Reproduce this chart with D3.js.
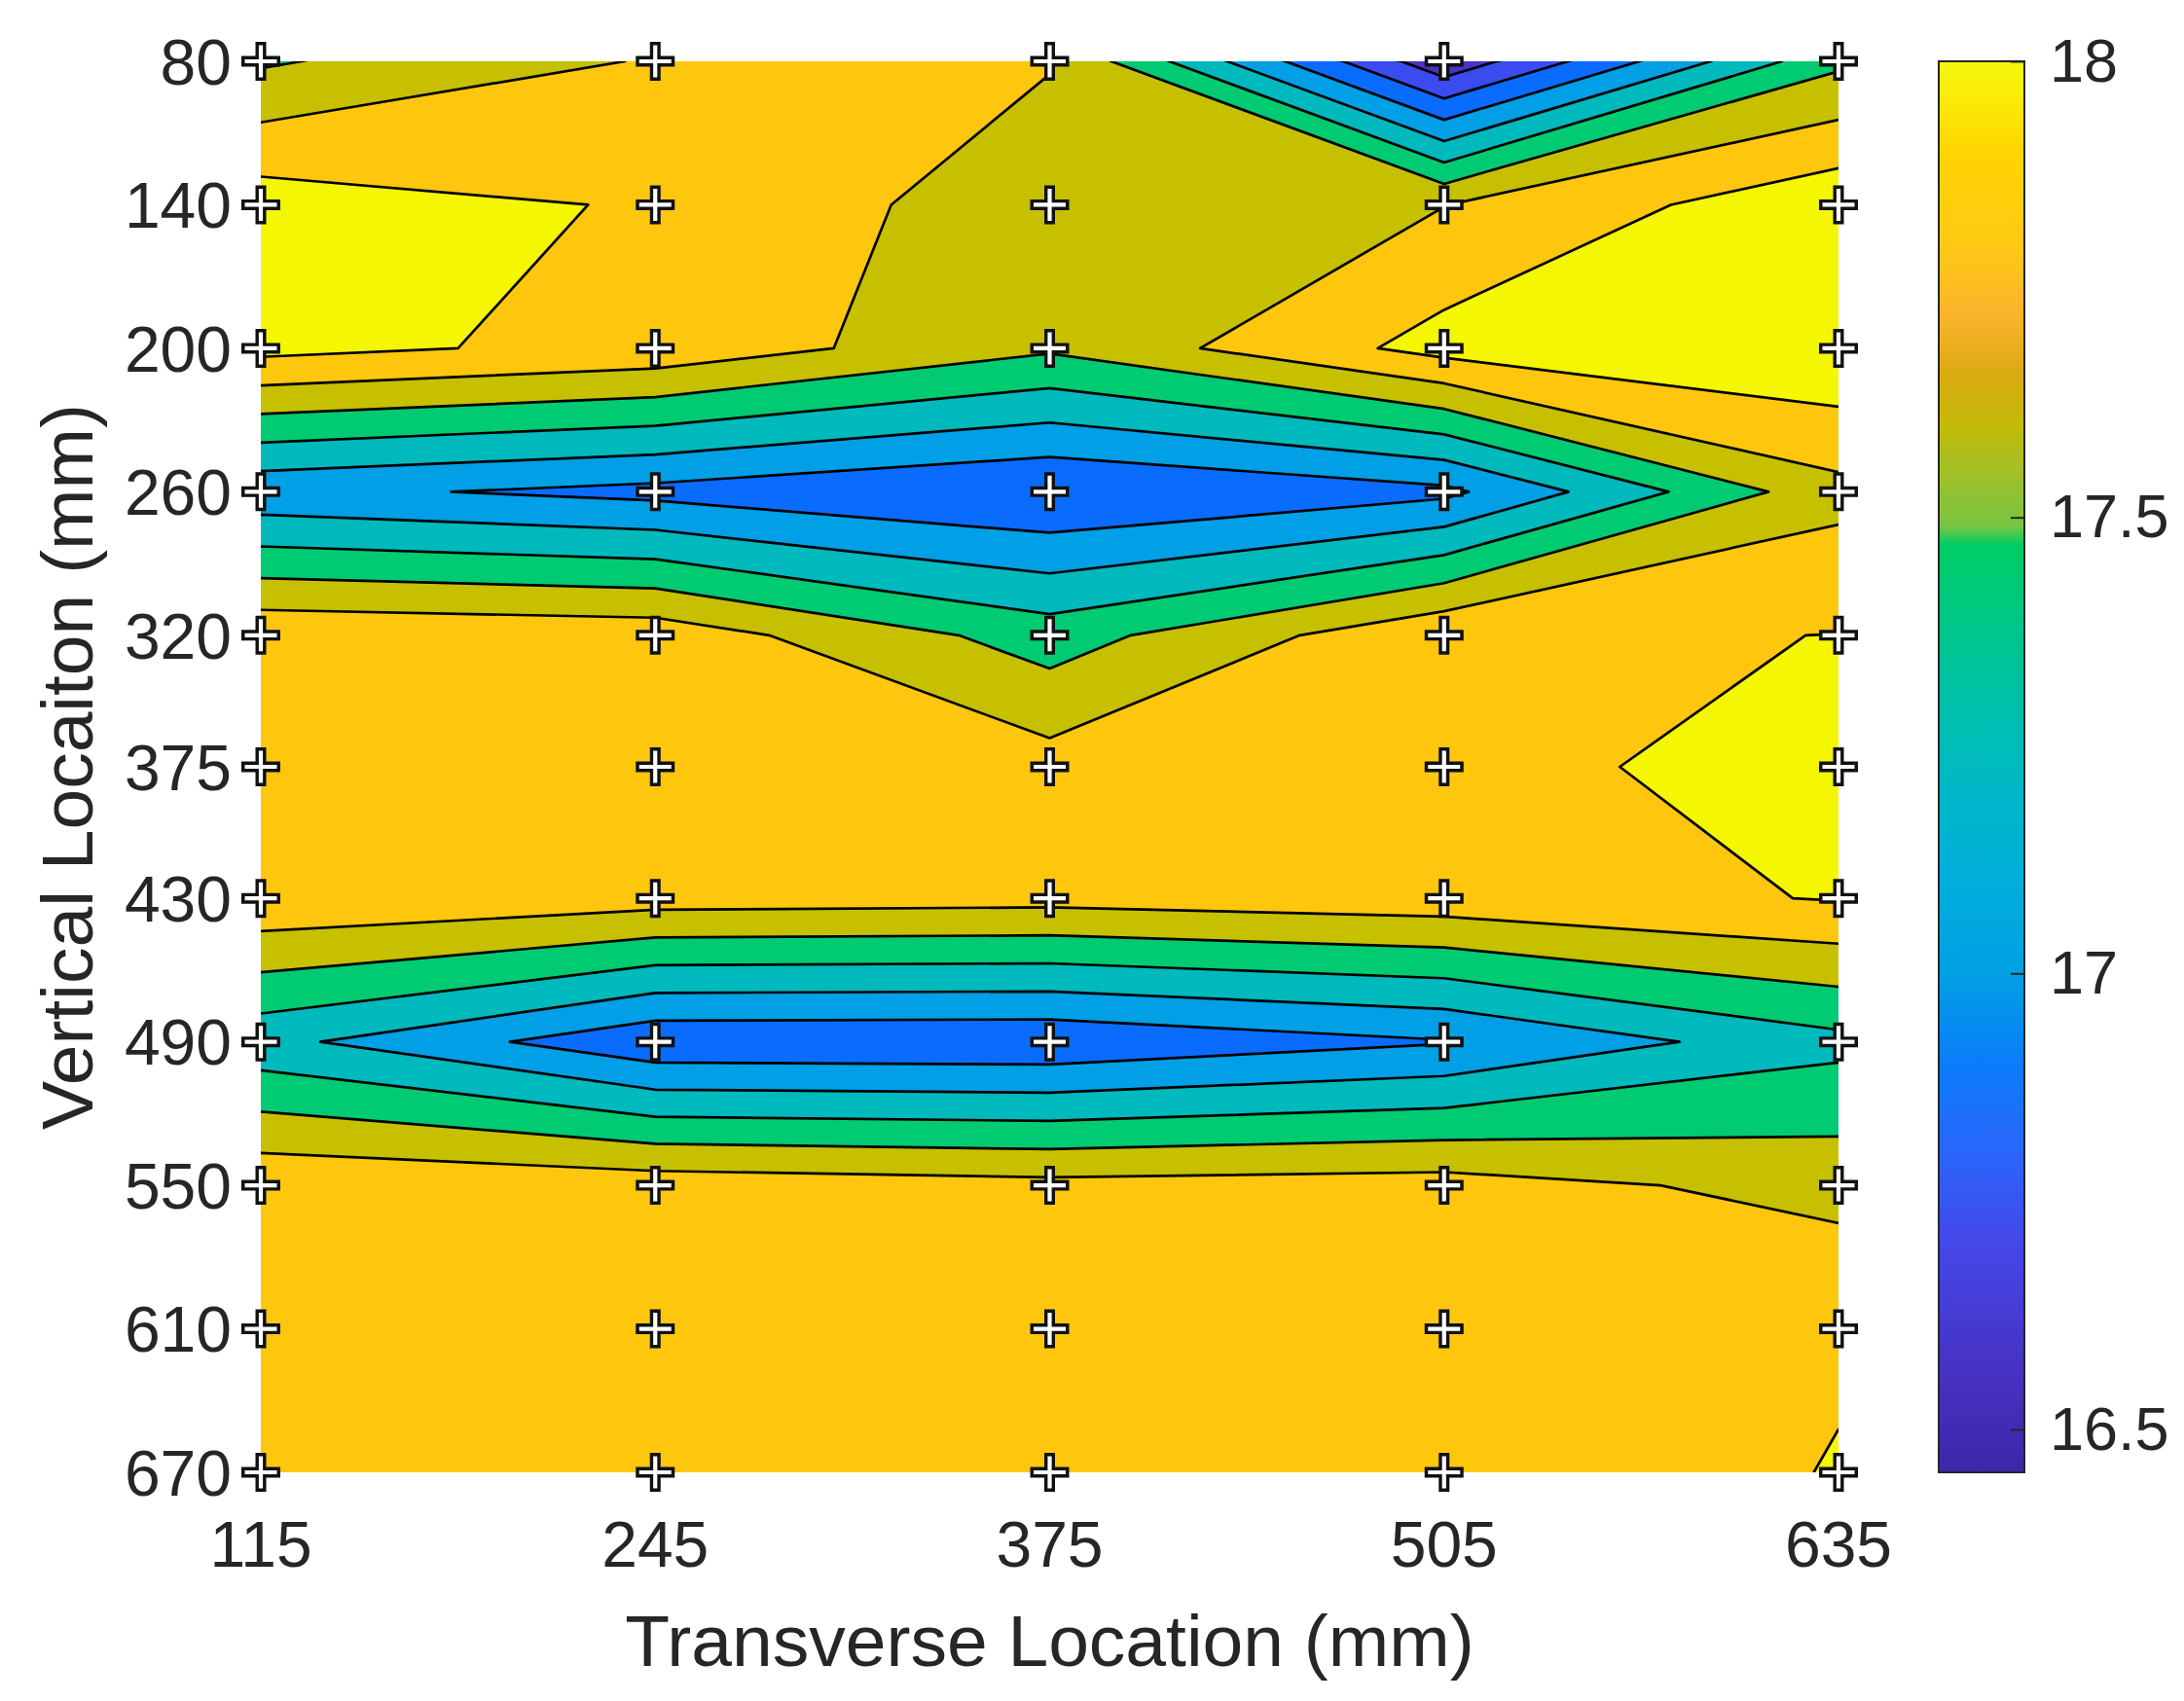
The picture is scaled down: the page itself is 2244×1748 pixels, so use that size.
<!DOCTYPE html>
<html>
<head>
<meta charset="utf-8">
<script src="https://cdn.jsdelivr.net/npm/d3@7"></script>
<style>
  body { margin: 0; background: #fff; }
  text { font-family: "Liberation Sans", Arial, sans-serif; fill: #262626; }
</style>
</head>
<body>
<div id="chart"></div>
<script>
// measurement grid (mm)
const transverse = [115, 245, 375, 505, 635];
const vertical = [80, 140, 200, 260, 320, 375, 430, 490, 550, 610, 670];

// one row per vertical location, columns follow `transverse`
const readings = [
  [17.431, 17.614, 17.609, 16.589, 17.419],
  [17.828, 17.734, 17.510, 17.597, 17.863],
  [17.795, 17.705, 17.473, 17.806, 17.884],
  [17.042, 16.955, 16.849, 16.963, 17.555],
  [17.720, 17.690, 17.378, 17.728, 17.752],
  [17.720, 17.705, 17.662, 17.705, 17.806],
  [17.719, 17.662, 17.648, 17.689, 17.758],
  [17.197, 16.885, 16.880, 16.990, 17.258],
  [17.717, 17.680, 17.642, 17.662, 17.549],
  [17.720, 17.705, 17.690, 17.690, 17.743],
  [17.720, 17.713, 17.705, 17.705, 17.753],
];

// contour levels and the fill of each band (lowest band first)
const levels = [16.7, 16.85, 17.0, 17.15, 17.3, 17.45, 17.6, 17.75];
const bandColors = ["#4832c8", "#3a4bef", "#0a6cff", "#009fe6", "#00b9bc",
  "#00cb72", "#c6c000", "#fec70e", "#f5f602"];

// colorbar
const colorbarDomain = [16.453, 18];
const colorbarTicks = [16.5, 17, 17.5, 18];
const colorbarStops = [
  [16.453, "#3e26a8"], [16.55, "#4630bf"], [16.7, "#4547e8"], [16.8, "#2c64fa"],
  [16.9, "#0a7dfa"], [17.0, "#00a0e4"], [17.1, "#00aedb"], [17.2, "#00b8c8"],
  [17.3, "#00c0a8"], [17.4, "#00c882"], [17.47, "#00cd64"], [17.49, "#78c442"],
  [17.55, "#a2c028"], [17.6, "#c4bb08"], [17.66, "#dcaa12"], [17.72, "#fab42c"],
  [17.8, "#ffc914"], [17.9, "#ffd400"], [17.95, "#fbe805"], [18.0, "#f5f80c"],
];

const width = 2244, height = 1748;
const plot = { left: 268, right: 1889, top: 63, bottom: 1513 };

const svg = d3.select("#chart").append("svg")
  .attr("width", width)
  .attr("height", height);

const x = d3.scaleLinear().domain(d3.extent(transverse)).range([plot.left, plot.right]);
const y = d3.scaleLinear().domain(d3.extent(vertical)).range([plot.top, plot.bottom]);

// grid index -> mm (rows are not evenly spaced in mm)
const colMm = d3.scaleLinear().domain(d3.range(transverse.length)).range(transverse);
const rowMm = d3.scaleLinear().domain(d3.range(vertical.length)).range(vertical);

// d3.contours puts sample i at i + 0.5
const gridToScreen = d3.geoTransform({
  point(gx, gy) {
    this.stream.point(x(colMm(gx - 0.5)), y(rowMm(gy - 0.5)));
  }
});
const path = d3.geoPath(gridToScreen);

const contours = d3.contours()
  .size([transverse.length, vertical.length])
  .thresholds(levels)(readings.flat());

svg.append("clipPath").attr("id", "plot-clip")
  .append("rect")
  .attr("x", plot.left).attr("y", plot.top)
  .attr("width", plot.right - plot.left)
  .attr("height", plot.bottom - plot.top);

const field = svg.append("g").attr("clip-path", "url(#plot-clip)");

field.append("rect")
  .attr("x", plot.left).attr("y", plot.top)
  .attr("width", plot.right - plot.left)
  .attr("height", plot.bottom - plot.top)
  .attr("fill", bandColors[0]);

field.selectAll("path.band")
  .data(contours)
  .join("path")
  .attr("class", "band")
  .attr("d", path)
  .attr("fill", (d, i) => bandColors[i + 1])
  .attr("stroke", "#000")
  .attr("stroke-width", 2.7)
  .attr("stroke-linejoin", "round");

// measurement points
const nodes = [];
vertical.forEach((v) => transverse.forEach((t) => nodes.push([t, v])));

const marks = svg.append("g").selectAll("g")
  .data(nodes)
  .join("g")
  .attr("transform", (d) => `translate(${x(d[0])},${y(d[1])})`);
marks.append("path")
  .attr("d", "M-20,0H20M0,-20V20")
  .attr("stroke", "#111")
  .attr("stroke-width", 11)
  .attr("fill", "none");
marks.append("path")
  .attr("d", "M-16.5,0H16.5M0,-16.5V16.5")
  .attr("stroke", "#fff")
  .attr("stroke-width", 4.2)
  .attr("fill", "none");

// axis labels
svg.append("g").selectAll("text")
  .data(transverse)
  .join("text")
  .attr("x", (d) => x(d))
  .attr("y", 1610)
  .attr("text-anchor", "middle")
  .attr("font-size", 66)
  .text((d) => d);

svg.append("g").selectAll("text")
  .data(vertical)
  .join("text")
  .attr("x", plot.left - 30)
  .attr("y", (d) => y(d))
  .attr("dy", "0.36em")
  .attr("text-anchor", "end")
  .attr("font-size", 66)
  .text((d) => d);

svg.append("text")
  .attr("x", (plot.left + plot.right) / 2)
  .attr("y", 1712)
  .attr("text-anchor", "middle")
  .attr("font-size", 75)
  .text("Transverse Location (mm)");

svg.append("text")
  .attr("transform", `translate(95,${(plot.top + plot.bottom) / 2}) rotate(-90)`)
  .attr("text-anchor", "middle")
  .attr("font-size", 75)
  .text("Vertical Locaiton (mm)");

// colorbar
const cb = { left: 1992, right: 2080 };
const c = d3.scaleLinear().domain(colorbarDomain).range([plot.bottom, plot.top]);

const grad = svg.append("defs").append("linearGradient")
  .attr("id", "cbar")
  .attr("x1", 0).attr("y1", 1).attr("x2", 0).attr("y2", 0);
grad.selectAll("stop")
  .data(colorbarStops)
  .join("stop")
  .attr("offset", (d) => (d[0] - colorbarDomain[0]) / (colorbarDomain[1] - colorbarDomain[0]))
  .attr("stop-color", (d) => d[1]);

svg.append("rect")
  .attr("x", cb.left).attr("y", plot.top)
  .attr("width", cb.right - cb.left)
  .attr("height", plot.bottom - plot.top)
  .attr("fill", "url(#cbar)")
  .attr("stroke", "#262626")
  .attr("stroke-width", 2);

const cbAxis = d3.axisRight(c)
  .tickValues(colorbarTicks)
  .tickFormat((d) => d)
  .tickSize(0)
  .tickPadding(26);

const cbG = svg.append("g")
  .attr("transform", `translate(${cb.right},0)`)
  .call(cbAxis);
cbG.select(".domain").remove();
cbG.selectAll("text")
  .attr("font-size", 63)
  .attr("font-family", null)
  .attr("fill", "#262626");
cbG.selectAll(".tick").append("line")
  .attr("x1", -14).attr("x2", 0)
  .attr("stroke", "#262626")
  .attr("stroke-width", 2);
</script>
</body>
</html>
